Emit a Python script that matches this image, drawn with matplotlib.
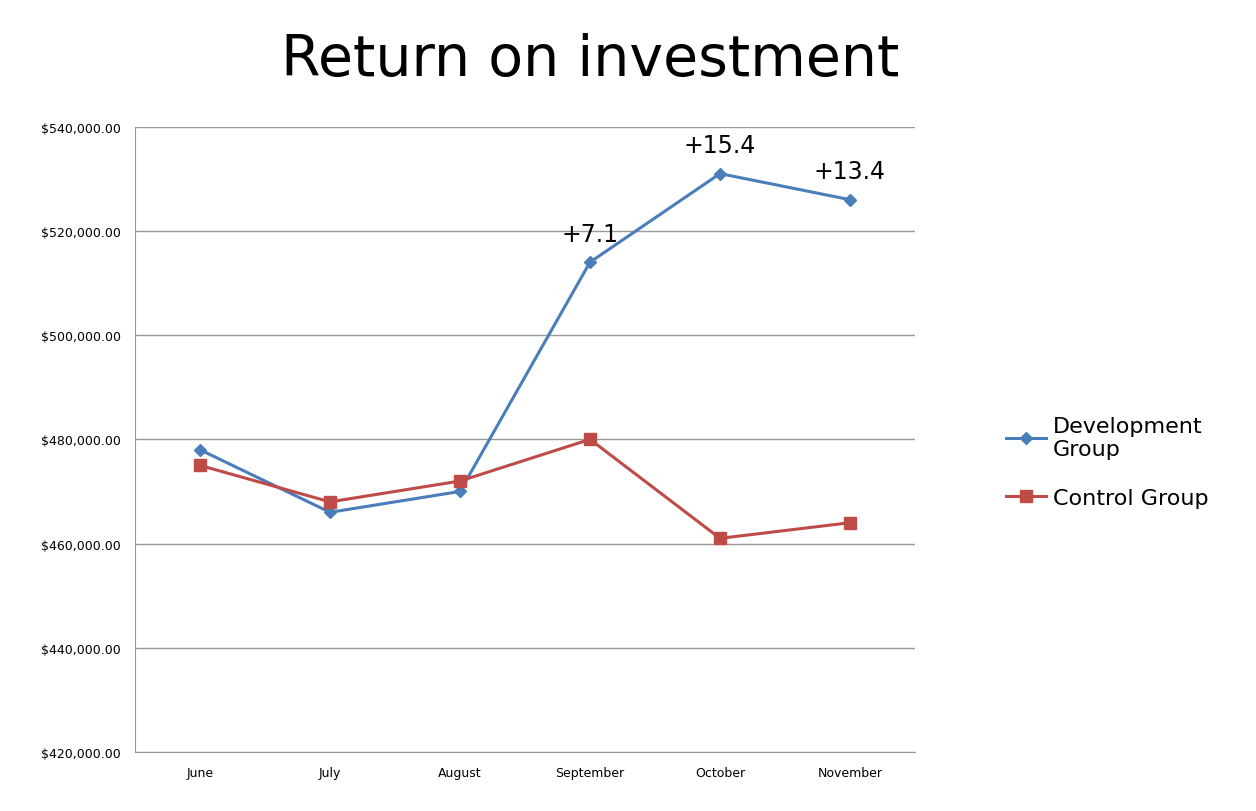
import matplotlib
matplotlib.use("Agg")
import matplotlib.pyplot as plt
from matplotlib.ticker import FuncFormatter

months = ["June", "July", "August", "September", "October", "November"]
development = [478000, 466000, 470000, 514000, 531000, 526000]
control = [475000, 468000, 472000, 480000, 461000, 464000]
labels = {3: "+7.1", 4: "+15.4", 5: "+13.4"}

fig = plt.figure(figsize=(12.56, 8.12), dpi=100)
ax = fig.add_axes([0.1075, 0.0727, 0.621, 0.770])

x = range(len(months))
ax.plot(x, development, color="#4a7ebb", lw=2.2, marker="D", ms=6, label="Development\nGroup")
ax.plot(x, control, color="#be4b48", lw=2.2, marker="s", ms=8, label="Control Group")

for i, t in labels.items():
    ax.annotate(t, (i, development[i]), xytext=(0, 12), textcoords="offset points",
                ha="center", va="bottom", fontsize=17)

ax.set_ylim(420000, 540000)
ax.set_yticks(range(420000, 540001, 20000))
ax.yaxis.set_major_formatter(FuncFormatter(lambda v, p: f"${v:,.2f}"))
ax.set_xlim(-0.5, 5.5)
ax.set_xticks(list(x))
ax.set_xticklabels(months)
ax.tick_params(labelsize=9, length=0, pad=10)
ax.grid(axis="y", color="#999999", lw=1)
ax.set_axisbelow(True)
for s in ["top", "right"]:
    ax.spines[s].set_visible(False)
for s in ["left", "bottom"]:
    ax.spines[s].set_color("#999999")

fig.text(0.47, 0.925, "Return on investment", ha="center", va="center", fontsize=41)
fig.legend(loc="center left", bbox_to_anchor=(0.785, 0.43), frameon=False,
           fontsize=16, handlelength=1.8, handletextpad=0.3, labelspacing=1.3)

fig.savefig("out.png")
